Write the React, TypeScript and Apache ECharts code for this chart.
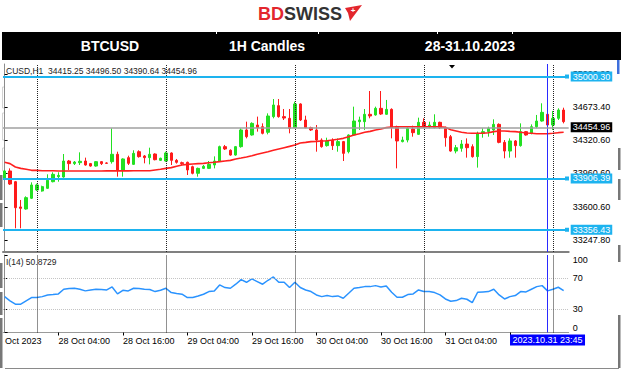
import React, { useEffect, useRef } from "react";
import * as echarts from "echarts";

// H1 bars, bar 0 = 27 Oct 18:00 ... bar 104 = 1 Nov 02:00 ; [open, close, low, high]
const candles: number[][] = [
  [33901, 33987, 33890, 33998], [33987, 33847, 33837, 34015], [33872, 33593, 33372, 33880], [33601, 33586, 33372, 33676],
  [33579, 33701, 33572, 33715], [33694, 33837, 33686, 33865], [33783, 33837, 33772, 33851], [33772, 33819, 33765, 33829],
  [33801, 33887, 33794, 33951], [33872, 33951, 33865, 33973], [33926, 33940, 33872, 33973], [33922, 34094, 33915, 34169],
  [34094, 34066, 33998, 34105], [34066, 34083, 34051, 34094], [34076, 34091, 34051, 34187], [34094, 34051, 34044, 34130],
  [34066, 34040, 34033, 34073], [34040, 34087, 34033, 34094], [34087, 34066, 34051, 34094], [34073, 34069, 34062, 34080],
  [34087, 34166, 34066, 34445], [34166, 33998, 33926, 34194], [33998, 34116, 33926, 34123], [34130, 34069, 34051, 34151],
  [34058, 34176, 34051, 34209], [34194, 34141, 34130, 34209], [34148, 34130, 34069, 34158], [34130, 34166, 34058, 34237],
  [34169, 34108, 34101, 34176], [34101, 34123, 34094, 34130], [34094, 34180, 34087, 34194], [34180, 34101, 34051, 34187],
  [34101, 34080, 34066, 34116], [34076, 34066, 34051, 34087], [34080, 33998, 33944, 34087], [34033, 33962, 33951, 34044],
  [33962, 34015, 33926, 34023], [34015, 34037, 34008, 34051], [34015, 34058, 34008, 34094], [34051, 34094, 34015, 34144],
  [34094, 34248, 34087, 34259], [34248, 34223, 34212, 34266], [34209, 34158, 34151, 34219], [34158, 34248, 34151, 34255],
  [34248, 34427, 34237, 34445], [34427, 34355, 34337, 34516], [34373, 34498, 34366, 34509], [34480, 34452, 34409, 34570],
  [34462, 34391, 34380, 34498], [34402, 34577, 34380, 34605], [34570, 34695, 34552, 34759], [34688, 34570, 34559, 34759],
  [34570, 34555, 34534, 34652], [34552, 34445, 34391, 34652], [34452, 34706, 34445, 34731], [34706, 34534, 34523, 34713],
  [34534, 34452, 34445, 34580], [34452, 34427, 34416, 34462], [34427, 34319, 34194, 34480], [34319, 34248, 34237, 34337],
  [34259, 34309, 34248, 34344], [34319, 34259, 34212, 34337], [34259, 34302, 34194, 34337], [34302, 34176, 34094, 34309],
  [34194, 34373, 34176, 34380], [34373, 34523, 34366, 34677], [34516, 34534, 34427, 34570], [34516, 34595, 34427, 34652],
  [34595, 34577, 34552, 34845], [34588, 34659, 34580, 34677], [34659, 34598, 34588, 34845], [34595, 34648, 34588, 34749],
  [34648, 34455, 34337, 34659], [34462, 34309, 34015, 34473], [34302, 34319, 34294, 34355], [34319, 34445, 34294, 34462],
  [34437, 34398, 34355, 34473], [34380, 34509, 34373, 34559], [34509, 34462, 34452, 34552], [34462, 34480, 34445, 34516],
  [34452, 34509, 34445, 34595], [34509, 34452, 34437, 34516], [34452, 34344, 34248, 34462], [34355, 34201, 34194, 34373],
  [34201, 34237, 34176, 34266], [34230, 34276, 34194, 34319], [34276, 34237, 34130, 34337], [34248, 34141, 34130, 34273],
  [34141, 34391, 34023, 34409], [34391, 34409, 34344, 34445], [34409, 34445, 34355, 34462], [34427, 34487, 34373, 34541],
  [34487, 34294, 34284, 34498], [34294, 34201, 34123, 34319], [34201, 34309, 34130, 34337], [34309, 34259, 34130, 34319],
  [34259, 34409, 34248, 34498], [34409, 34373, 34366, 34416], [34391, 34462, 34380, 34487], [34462, 34523, 34445, 34588],
  [34523, 34616, 34516, 34713], [34595, 34480, 34473, 34605], [34480, 34552, 34427, 34631], [34552, 34641, 34534, 34659],
  [34641, 34516, 34498, 34666],
];

const maValues: number[] = [
  34080, 34066, 34030, 34015, 34005, 33994, 33994, 33990, 33990, 33990,
  33987, 33987, 33986, 33986, 33987, 33987, 33986, 33986, 33987, 33988, 33988, 33988,
  33988, 33988, 33989, 33989, 33989,
  33990, 33998, 34005, 34015, 34023, 34037, 34051, 34058, 34062, 34066,
  34069, 34076, 34080, 34087, 34094, 34101, 34116, 34126, 34137, 34151,
  34166, 34180, 34194, 34209, 34223, 34237, 34251, 34266, 34287, 34294,
  34302, 34305, 34309, 34312, 34319, 34327, 34337, 34355, 34373, 34387,
  34402, 34412, 34427, 34437, 34452, 34459, 34462, 34462, 34462, 34462,
  34462, 34462, 34462, 34462, 34462, 34455, 34430, 34416, 34402, 34394,
  34391, 34391, 34391, 34398, 34409, 34416, 34416, 34412, 34409, 34402,
  34394, 34391, 34387, 34387, 34387, 34391, 34398, 34402,
];

const rsiValues: number[] = [
  46.3, 40.8, 36.5, 36.5, 40.8, 45.1, 45.1, 46.3, 48.5, 48.9,
  49.8, 55.8, 56.7, 57.1, 55.8, 53.7, 54.9, 55.8, 55.4, 54.9,
  58.8, 49.8, 54.5, 53.7, 57.1, 56.7, 55.8, 55.4, 52.8, 54.5,
  57.1, 51.5, 50.2, 49.4, 45.1, 45.1, 47.2, 49.4, 52.8, 53.7,
  61.4, 58.0, 57.1, 62.3, 68.3, 64.8, 69.1, 65.7, 62.3, 67.4,
  71.7, 64.8, 64.8, 58.0, 64.8, 58.0, 54.9, 52.8, 48.5, 46.3,
  47.6, 46.3, 47.2, 44.2, 50.6, 57.1, 58.0, 59.2, 59.2, 60.5,
  58.8, 60.1, 51.9, 45.5, 45.5, 48.9, 49.8, 54.9, 52.8, 52.8,
  51.5, 48.5, 43.3, 40.3, 41.2, 44.2, 42.9, 38.6, 51.9, 52.4,
  52.8, 55.8, 48.5, 43.3, 46.3, 47.6, 52.8, 52.4, 55.8, 59.2,
  60.5, 53.7, 55.8, 58.4, 54.1,
];

const timeTickBars = [10, 22, 34, 46, 58, 70, 82, 94];
const timeLabelBars = [10, 22, 34, 46, 58, 70, 82];
const timeTickLabels = ["28 Oct 04:00", "28 Oct 16:00", "29 Oct 04:00", "29 Oct 16:00", "30 Oct 04:00", "30 Oct 16:00", "31 Oct 04:00"];
const daySeparatorBars = [6, 30, 54, 78, 102];
const cursorBar = 101;
const cursorLabel = "2023.10.31 23:45";
const priceTicks = [35026.2, 34673.4, 34320.6, 33960.6, 33600.6, 33247.8];
const levelLines = [35000.3, 33906.39, 33356.43];
const bidPrice = 34454.96;
const rsiLevels = [70, 30];
const rsiTicks = [0, 30, 70, 100];
const infoText = "CUSD,H1  34415.25 34496.50 34390.64 34454.96";
const rsiTitle = "I(14) 50.8729";

const FONT = "'Liberation Sans', Arial, sans-serif";
const LEVEL_BLUE = "#1db3ef";

export default function App() {
  const ref = useRef<HTMLDivElement>(null);
  useEffect(() => {
    const chart = echarts.init(ref.current!, null, { renderer: "svg" });
    const xMin = -0.302;
    const xMax = 104.94;
    const sepItems = daySeparatorBars.map((b) => ({
      xAxis: b,
      lineStyle: { color: "#222", type: "dotted", width: 1 },
      label: { show: false },
    }));
    const cursorItem = { xAxis: cursorBar, lineStyle: { color: "#2a2aff", width: 1, type: "solid" }, label: { show: false } };
    const option: any = {
      animation: false,
      textStyle: { fontFamily: FONT },
      grid: [
        { left: 3, right: 55.3, top: 64, height: 188 },
        { left: 3, right: 55.3, top: 255, height: 77.5 },
      ],
      xAxis: [
        {
          type: "value", gridIndex: 0, min: xMin, max: xMax,
          axisLine: { show: true, onZero: false, lineStyle: { color: "#808080", width: 2 } },
          axisTick: { show: false }, axisLabel: { show: false }, splitLine: { show: false },
        },
        {
          type: "value", gridIndex: 1, min: xMin, max: xMax,
          axisLine: { show: true, onZero: false, lineStyle: { color: "#9a9a9a", width: 1 } },
          axisTick: { show: true, customValues: timeTickBars, length: 3, lineStyle: { color: "#000" } },
          axisLabel: {
            customValues: timeLabelBars, align: "left", margin: 4, fontSize: 9, color: "#000",
            formatter: (v: number) => {
              const idx = timeLabelBars.findIndex((b) => Math.abs(b - v) < 0.01);
              return idx >= 0 ? timeTickLabels[idx] : "";
            },
          },
          splitLine: { show: false },
        },
      ],
      yAxis: [
        {
          type: "value", gridIndex: 0, position: "right", min: 33117.8, max: 35134.7,
          axisLine: { show: true, lineStyle: { color: "#8c8c8c" } },
          axisTick: { show: true, customValues: priceTicks, length: 3, lineStyle: { color: "#000" } },
          axisLabel: { customValues: priceTicks, formatter: (v: number) => v.toFixed(2), fontSize: 9, margin: 4, color: "#000" },
          splitLine: { show: false },
        },
        {
          type: "value", gridIndex: 1, position: "right", min: 0, max: 100,
          axisLine: { show: true, lineStyle: { color: "#8c8c8c" } },
          axisTick: { show: true, customValues: rsiTicks, length: 3, lineStyle: { color: "#000" } },
          axisLabel: {
            customValues: rsiTicks, fontSize: 9, margin: 4, color: "#000",
            verticalAlignMaxLabel: "top", verticalAlignMinLabel: "bottom",
          },
          splitLine: { show: false },
        },
      ],
      series: [
        {
          type: "candlestick", xAxisIndex: 0, yAxisIndex: 0,
          data: candles.map((c, k) => [k, c[0], c[1], c[2], c[3]]),
          encode: { x: 0, y: [1, 2, 3, 4] },
          barWidth: 2.8,
          itemStyle: { color: "#22e022", color0: "#ff1a1a", borderColor: "#22e022", borderColor0: "#ff1a1a", borderWidth: 1 },
          markLine: {
            silent: true, symbol: "none", animation: false,
            data: [
              ...sepItems,
              cursorItem,
              { yAxis: bidPrice, lineStyle: { color: "#a0a0a0", width: 1.5, type: "solid" },
                label: { show: true, position: "end", distance: 2, formatter: () => bidPrice.toFixed(2), backgroundColor: "#000", color: "#fff", padding: [1, 2, 0, 2], fontSize: 9, fontFamily: FONT } },
              ...levelLines.map((v) => ({
                yAxis: v, lineStyle: { color: LEVEL_BLUE, width: 2, type: "solid" },
                label: { show: true, position: "end", distance: 2, formatter: () => v.toFixed(2), backgroundColor: LEVEL_BLUE, color: "#fff", padding: [1, 2, 0, 2], fontSize: 9, fontFamily: FONT },
              })),
            ],
          },
        },
        {
          type: "line", xAxisIndex: 0, yAxisIndex: 0, symbol: "none",
          data: maValues.map((v, k) => [k, v]),
          lineStyle: { color: "#ff1f1f", width: 1.6 },
        },
        {
          type: "line", xAxisIndex: 1, yAxisIndex: 1, symbol: "none",
          data: rsiValues.map((v, k) => [k, v]),
          lineStyle: { color: "#2a93ff", width: 1.5 },
          markLine: {
            silent: true, symbol: "none", animation: false,
            data: [
              ...rsiLevels.map((v) => ({ yAxis: v, lineStyle: { color: "#c4c4c4", type: "dotted", width: 1 }, label: { show: false } })),
              ...sepItems,
              cursorItem,
            ],
          },
        },
      ],
    };
    chart.setOption(option);

    const cx = chart.convertToPixel({ xAxisIndex: 1 }, cursorBar) as number;
    const handles = levelLines.map((v) => {
      const py = chart.convertToPixel({ yAxisIndex: 0 }, v) as number;
      return { type: "rect", z: 50, shape: { x: 565, y: py - 2, width: 4, height: 4 }, style: { fill: LEVEL_BLUE } };
    });
    const gray = "#777";
    const light = "#d2d2d2";
    const bracket = (y1: number, y2: number) => ({
      type: "polyline", shape: { points: [[5, y1], [2.5, y1], [2.5, y2], [5, y2]] }, style: { stroke: light, lineWidth: 1, fill: "none" },
    });
    const bar = (x: number, y1: number, y2: number, color: string) => ({
      type: "rect", shape: { x, y: y1, width: 2.5, height: y2 - y1 }, style: { fill: color },
    });
    chart.setOption({
      graphic: [
        // logo
        { type: "text", style: { text: "BD", x: 258, y: 14, fill: "#e3262d", fontSize: 18, fontWeight: "bold", fontFamily: FONT, verticalAlign: "middle" } },
        { type: "text", style: { text: "SWISS", x: 284, y: 14, fill: "#333", fontSize: 18, fontWeight: "bold", fontFamily: FONT, verticalAlign: "middle" } },
        { type: "polygon", shape: { points: [[345, 8], [362, 5], [350, 21], [348, 13]] }, style: { fill: "#e3262d" } },
        { type: "text", style: { text: "+", x: 353, y: 10, fill: "#fff", fontSize: 8, fontWeight: "bold", fontFamily: FONT, align: "center", verticalAlign: "middle" } },
        // header bar
        { type: "rect", shape: { x: 2, y: 32, width: 619, height: 28 }, style: { fill: "#000" } },
        ...[216, 318, 437, 512].map((x) => ({ type: "rect", shape: { x, y: 32, width: 1, height: 2 }, style: { fill: "#fff" } })),
        { type: "text", style: { text: "BTCUSD", x: 110, y: 46, fill: "#fff", fontSize: 14, fontWeight: "bold", fontFamily: FONT, align: "center", verticalAlign: "middle" } },
        { type: "text", style: { text: "1H Candles", x: 267, y: 46, fill: "#fff", fontSize: 14, fontWeight: "bold", fontFamily: FONT, align: "center", verticalAlign: "middle" } },
        { type: "text", style: { text: "28-31.10.2023", x: 470, y: 46, fill: "#fff", fontSize: 14, fontWeight: "bold", fontFamily: FONT, align: "center", verticalAlign: "middle" } },
        // chart info texts
        { type: "text", style: { text: infoText, x: 6, y: 71, fill: "#222", fontSize: 8.5, fontFamily: FONT, verticalAlign: "middle" } },
        { type: "text", style: { text: rsiTitle, x: 6, y: 262, fill: "#222", fontSize: 8.5, fontFamily: FONT, verticalAlign: "middle" } },
        { type: "text", style: { text: "Oct 2023", x: 5, y: 341, fill: "#000", fontSize: 9, fontFamily: FONT, verticalAlign: "middle" } },
        { type: "polygon", shape: { points: [[449, 65], [455, 65], [452, 68.5]] }, style: { fill: "#000" } },
        ...handles,
        // window artifacts
        bracket(87, 108), bracket(113, 140), bracket(148, 171),
        bar(0, 175, 200, gray), bar(0, 203, 227, gray),
        bar(0, 263, 288, gray), bar(0, 292, 315, gray), bar(0, 318, 368, gray),
        bar(617, 60, 74, "#3d6fdc"), bar(618, 148, 170, gray), bar(618, 179, 200, gray),
        bar(618, 245, 262, gray), bar(618, 315, 368, gray),
        { type: "line", shape: { x1: 5, y1: 368.5, x2: 619, y2: 368.5 }, style: { stroke: "#8a8a8a", lineWidth: 1 } },
        // cursor time label
        { type: "rect", z: 100, shape: { x: cx - 37.5, y: 334.5, width: 75, height: 11 }, style: { fill: "#0000ff" } },
        { type: "text", z: 101, style: { text: cursorLabel, x: cx, y: 340.3, fill: "#fff", fontSize: 9, fontFamily: FONT, align: "center", verticalAlign: "middle" } },
      ],
    });
    return () => chart.dispose();
  }, []);
  return <div ref={ref} style={{ position: "fixed", left: 0, top: 0, width: 624, height: 371, background: "#fff" }} />;
}
